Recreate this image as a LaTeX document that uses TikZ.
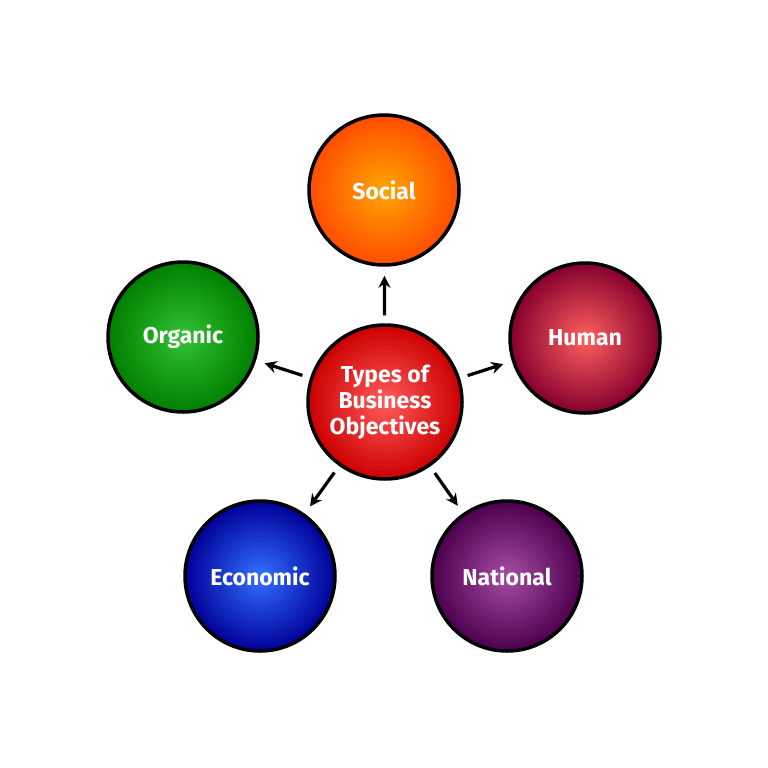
\documentclass[tikz,border=0pt]{standalone}
\usepackage{fontspec}
\setmainfont{Fira Sans}
\usetikzlibrary{arrows.meta}
\begin{document}
\begin{tikzpicture}[x=1pt,y=-1pt,
 ball/.style={circle,draw=black,line width=3.5pt,minimum size=150pt,inner sep=0pt,
   text=white,font=\fontsize{23}{26}\selectfont\bfseries,align=center},
 conn/.style={-{Stealth[length=12pt,width=12pt]},line width=3.2pt,shorten <=8pt,shorten >=9pt}]
\useasboundingbox[fill=white] (0,0) rectangle (768,768);
\node[ball,inner color=red!60!white!90!red,outer color=red!80!black,minimum size=154pt] (c) at (385,402) {Types of\\Business\\Objectives};
\node[ball,inner color=orange!70!yellow,outer color=orange!60!red] (s) at (384,190) {Social};
\node[ball,inner color=green!70!black!80!white,outer color=green!50!black] (o) at (183,337) {Organic};
\node[ball,inner color=red!50!pink,outer color=purple!70!black] (h) at (585,338) {Human};
\node[ball,inner color=blue!70!cyan!80!white,outer color=blue!60!black] (e) at (260,576) {Economic};
\node[ball,inner color=violet!70!white,outer color=violet!60!black] (n) at (507,576) {National};
\foreach \t in {s,o,h,e,n} \draw[conn] (c) -- (\t);
\end{tikzpicture}
\end{document}
